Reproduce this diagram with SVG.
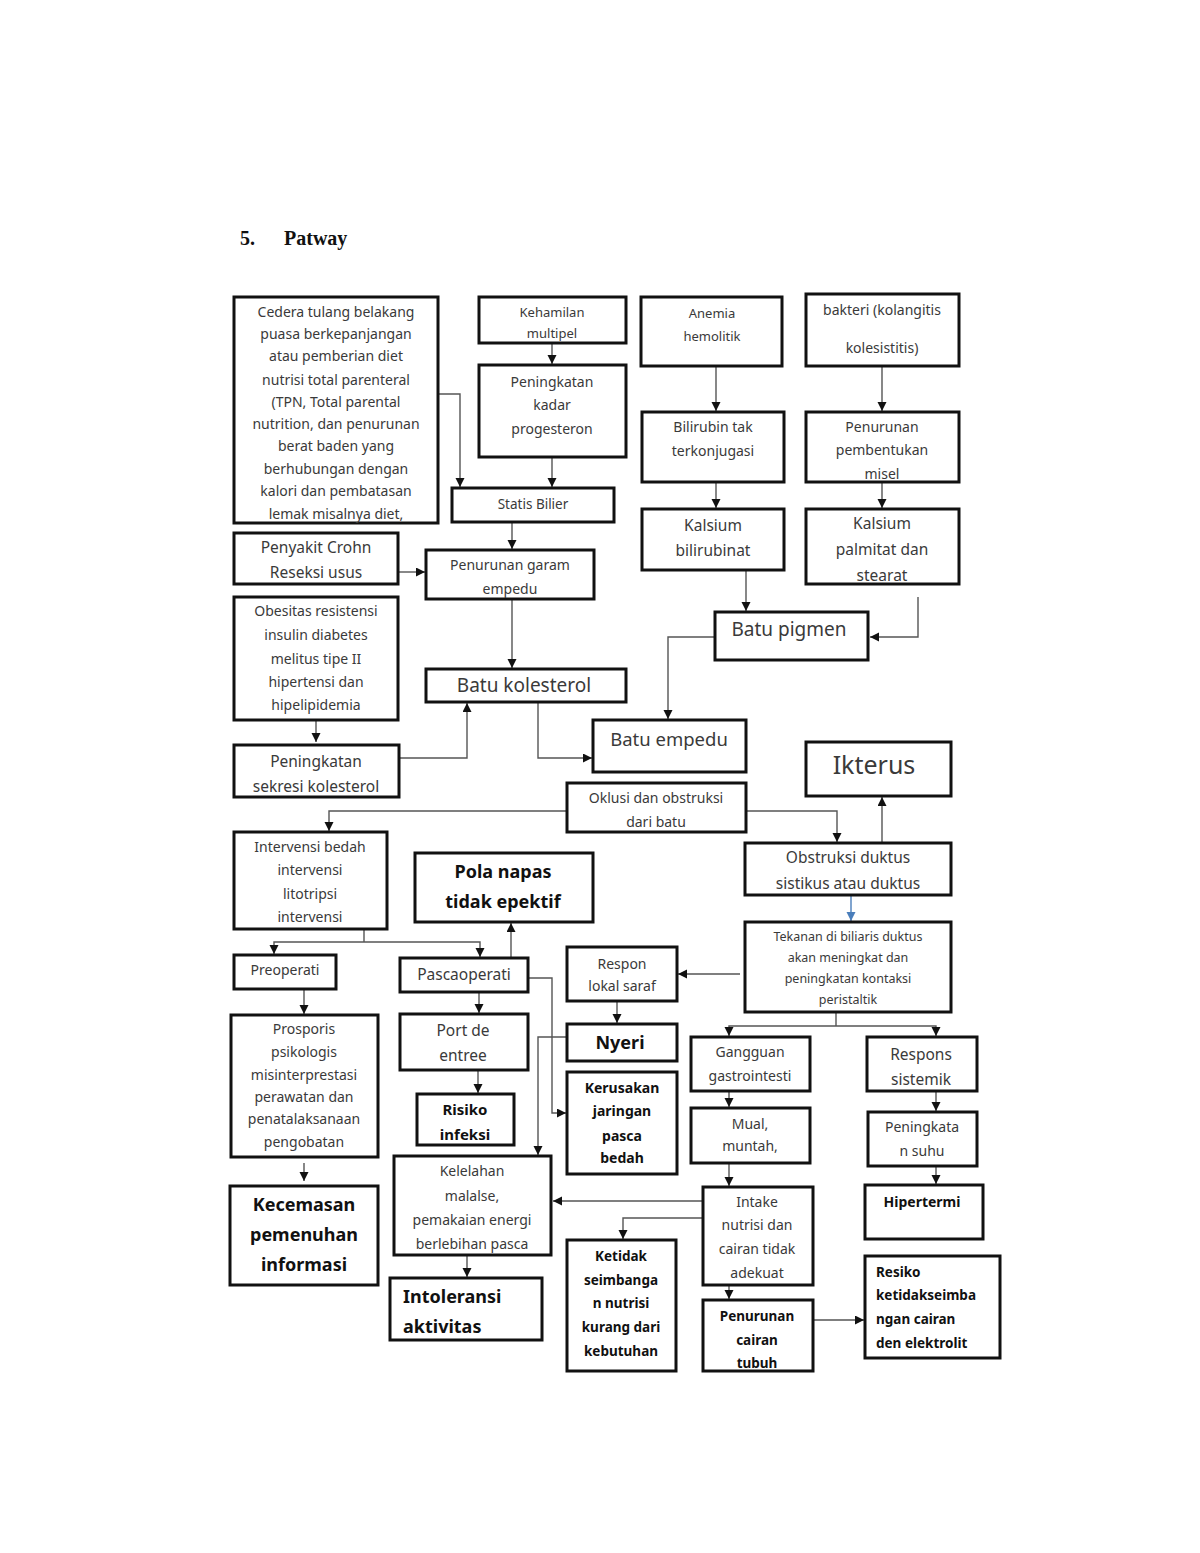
<svg xmlns="http://www.w3.org/2000/svg" width="1200" height="1553" viewBox="0 0 1200 1553">
<style>
.bx{fill:#fff;stroke:#111;stroke-width:3}
.t{font-family:"Noto Sans","Open Sans",sans-serif;fill:#3a3a3a;text-anchor:middle}
.b{font-family:"Noto Sans","Open Sans",sans-serif;fill:#111;text-anchor:middle;font-weight:bold}
.l{text-anchor:start}
.c{fill:none;stroke:#555;stroke-width:1.4}
</style>
<defs>
<marker id="a" markerUnits="userSpaceOnUse" markerWidth="10" markerHeight="10" refX="9" refY="4.5" orient="auto"><path d="M0,0 L9,4.5 L0,9 z" fill="#111"/></marker>
<marker id="ab" markerUnits="userSpaceOnUse" markerWidth="10" markerHeight="10" refX="9" refY="4.5" orient="auto"><path d="M0,0 L9,4.5 L0,9 z" fill="#4a7ebb"/></marker>
</defs>
<rect width="1200" height="1553" fill="#fff"/>
<g id="title" font-family="Liberation Serif,serif" font-size="20" font-weight="bold" fill="#111"><text x="240" y="245">5.</text><text x="284" y="245">Patway</text></g>

<g id="connectors">
<path class="c" d="M438,394 H460 V487" marker-end="url(#a)"/>
<path class="c" d="M552,343 V364" marker-end="url(#a)"/>
<path class="c" d="M552,457 V487" marker-end="url(#a)"/>
<path class="c" d="M512,522 V549" marker-end="url(#a)"/>
<path class="c" d="M398,572 H425" marker-end="url(#a)"/>
<path class="c" d="M512,599 V668" marker-end="url(#a)"/>
<path class="c" d="M316,720 V742" marker-end="url(#a)"/>
<path class="c" d="M399,758 H467 V703" marker-end="url(#a)"/>
<path class="c" d="M538,702 V758 H592" marker-end="url(#a)"/>
<path class="c" d="M716,366 V411" marker-end="url(#a)"/>
<path class="c" d="M716,482 V508" marker-end="url(#a)"/>
<path class="c" d="M882,366 V411" marker-end="url(#a)"/>
<path class="c" d="M882,482 V508" marker-end="url(#a)"/>
<path class="c" d="M746,570 V611" marker-end="url(#a)"/>
<path class="c" d="M918,597 V637 H870" marker-end="url(#a)"/>
<path class="c" d="M715,637 H668 V719" marker-end="url(#a)"/>
<path class="c" d="M567,811 H329 V831" marker-end="url(#a)"/>
<path class="c" d="M746,811 H837 V842" marker-end="url(#a)"/>
<path class="c" d="M882,843 V797" marker-end="url(#a)"/>
<path d="M851,895 V921" fill="none" stroke="#4a7ebb" stroke-width="1.4" marker-end="url(#ab)"/>
<path class="c" d="M740,974 H678" marker-end="url(#a)"/>
<path class="c" d="M617,1001 V1023" marker-end="url(#a)"/>
<path class="c" d="M364,929 V942"/>
<path class="c" d="M364,942 H274 V954" marker-end="url(#a)"/>
<path class="c" d="M364,942 H480 V957" marker-end="url(#a)"/>
<path class="c" d="M511,958 V923" marker-end="url(#a)"/>
<path class="c" d="M528,978 H552 V1113 H566" marker-end="url(#a)"/>
<path class="c" d="M304,989 V1014" marker-end="url(#a)"/>
<path class="c" d="M479,992 V1013" marker-end="url(#a)"/>
<path class="c" d="M478,1070 V1093" marker-end="url(#a)"/>
<path class="c" d="M304,1163 V1181" marker-end="url(#a)"/>
<path class="c" d="M567,1037 H538 V1155" marker-end="url(#a)"/>
<path class="c" d="M836,1012 V1026"/>
<path class="c" d="M836,1026 H729 V1036" marker-end="url(#a)"/>
<path class="c" d="M836,1026 H936 V1036" marker-end="url(#a)"/>
<path class="c" d="M729,1091 V1107" marker-end="url(#a)"/>
<path class="c" d="M729,1163 V1186" marker-end="url(#a)"/>
<path class="c" d="M936,1091 V1111" marker-end="url(#a)"/>
<path class="c" d="M936,1166 V1184" marker-end="url(#a)"/>
<path class="c" d="M703,1201 H553" marker-end="url(#a)"/>
<path class="c" d="M703,1218 H623 V1239" marker-end="url(#a)"/>
<path class="c" d="M729,1285 V1299" marker-end="url(#a)"/>
<path class="c" d="M813,1320 H864" marker-end="url(#a)"/>
<path class="c" d="M467,1255 V1277" marker-end="url(#a)"/>
</g>

<g id="nodes" font-size="14">
<g id="n1"><rect class="bx" x="234" y="297" width="204" height="226"/>
<text class="t"><tspan x="336" y="317">Cedera tulang belakang</tspan><tspan x="336" y="339">puasa berkepanjangan</tspan><tspan x="336" y="361">atau pemberian diet</tspan><tspan x="336" y="385">nutrisi total parenteral</tspan><tspan x="336" y="407">(TPN, Total parental</tspan><tspan x="336" y="429">nutrition, dan penurunan</tspan><tspan x="336" y="451">berat baden yang</tspan><tspan x="336" y="474">berhubungan dengan</tspan><tspan x="336" y="496">kalori dan pembatasan</tspan><tspan x="336" y="519">lemak misalnya diet,</tspan></text></g>
<g id="n2"><rect class="bx" x="479" y="297" width="147" height="46"/>
<text class="t" font-size="13"><tspan x="552" y="317">Kehamilan</tspan><tspan x="552" y="338">multipel</tspan></text></g>
<g id="n3"><rect class="bx" x="479" y="365" width="147" height="92"/>
<text class="t"><tspan x="552" y="387">Peningkatan</tspan><tspan x="552" y="410">kadar</tspan><tspan x="552" y="434">progesteron</tspan></text></g>
<g id="n4"><rect class="bx" x="452" y="488" width="162" height="34"/>
<text class="t" font-size="13.5"><tspan x="533" y="509">Statis Bilier</tspan></text></g>
<g id="n5"><rect class="bx" x="641" y="297" width="141" height="69"/>
<text class="t" font-size="13"><tspan x="712" y="318">Anemia</tspan><tspan x="712" y="341">hemolitik</tspan></text></g>
<g id="n6"><rect class="bx" x="806" y="294" width="153" height="72"/>
<text class="t"><tspan x="882" y="315">bakteri (kolangitis</tspan><tspan x="882" y="353">kolesistitis)</tspan></text></g>
<g id="n7"><rect class="bx" x="642" y="412" width="142" height="70"/>
<text class="t"><tspan x="713" y="432">Bilirubin tak</tspan><tspan x="713" y="456">terkonjugasi</tspan></text></g>
<g id="n8"><rect class="bx" x="806" y="412" width="153" height="70"/>
<text class="t"><tspan x="882" y="432">Penurunan</tspan><tspan x="882" y="455">pembentukan</tspan><tspan x="882" y="479">misel</tspan></text></g>
<g id="n9"><rect class="bx" x="642" y="509" width="142" height="61"/>
<text class="t" font-size="15.5"><tspan x="713" y="531">Kalsium</tspan><tspan x="713" y="556">bilirubinat</tspan></text></g>
<g id="n10"><rect class="bx" x="806" y="509" width="153" height="75"/>
<text class="t" font-size="15.5"><tspan x="882" y="529">Kalsium</tspan><tspan x="882" y="555">palmitat dan</tspan><tspan x="882" y="581">stearat</tspan></text></g>
<g id="n11"><rect class="bx" x="715" y="612" width="153" height="48"/>
<text class="t" font-size="19"><tspan x="789" y="636">Batu pigmen</tspan></text></g>
<g id="n12"><rect class="bx" x="234" y="533" width="164" height="51"/>
<text class="t" font-size="15.5"><tspan x="316" y="553">Penyakit Crohn</tspan><tspan x="316" y="578">Reseksi usus</tspan></text></g>
<g id="n13"><rect class="bx" x="426" y="550" width="168" height="49"/>
<text class="t"><tspan x="510" y="570">Penurunan garam</tspan><tspan x="510" y="594">empedu</tspan></text></g>
<g id="n14"><rect class="bx" x="234" y="597" width="164" height="123"/>
<text class="t"><tspan x="316" y="616">Obesitas resistensi</tspan><tspan x="316" y="640">insulin diabetes</tspan><tspan x="316" y="664">melitus tipe II</tspan><tspan x="316" y="687">hipertensi dan</tspan><tspan x="316" y="710">hipelipidemia</tspan></text></g>
<g id="n15"><rect class="bx" x="426" y="669" width="200" height="33"/>
<text class="t" font-size="19"><tspan x="524" y="692">Batu kolesterol</tspan></text></g>
<g id="n16"><rect class="bx" x="234" y="745" width="165" height="52"/>
<text class="t" font-size="15.5"><tspan x="316" y="767">Peningkatan</tspan><tspan x="316" y="792">sekresi kolesterol</tspan></text></g>
<g id="n17"><rect class="bx" x="593" y="720" width="153" height="52"/>
<text class="t" font-size="18.5"><tspan x="669" y="746">Batu empedu</tspan></text></g>
<g id="n18"><rect class="bx" x="806" y="742" width="145" height="54"/>
<text class="t" font-size="25" fill="#222"><tspan x="874" y="774">Ikterus</tspan></text></g>
<g id="n19"><rect class="bx" x="567" y="783" width="179" height="49"/>
<text class="t"><tspan x="656" y="803">Oklusi dan obstruksi</tspan><tspan x="656" y="827">dari batu</tspan></text></g>
<g id="n20"><rect class="bx" x="745" y="843" width="206" height="52"/>
<text class="t" font-size="15.5"><tspan x="848" y="863">Obstruksi duktus</tspan><tspan x="848" y="889">sistikus atau duktus</tspan></text></g>
<g id="n21"><rect class="bx" x="234" y="832" width="153" height="97"/>
<text class="t"><tspan x="310" y="852">Intervensi bedah</tspan><tspan x="310" y="875">intervensi</tspan><tspan x="310" y="899">litotripsi</tspan><tspan x="310" y="922">intervensi</tspan></text></g>
<g id="n22"><rect class="bx" x="415" y="853" width="178" height="69"/>
<text class="b" font-size="18"><tspan x="503" y="878">Pola napas</tspan><tspan x="503" y="908">tidak epektif</tspan></text></g>
<g id="n23"><rect class="bx" x="745" y="922" width="206" height="90"/>
<text class="t" font-size="12.5"><tspan x="848" y="941">Tekanan di biliaris duktus</tspan><tspan x="848" y="962">akan meningkat dan</tspan><tspan x="848" y="983">peningkatan kontaksi</tspan><tspan x="848" y="1004">peristaltik</tspan></text></g>
<g id="n24"><rect class="bx" x="567" y="947" width="110" height="54"/>
<text class="t"><tspan x="622" y="969">Respon</tspan><tspan x="622" y="991">lokal saraf</tspan></text></g>
<g id="n25"><rect class="bx" x="234" y="955" width="102" height="34"/>
<text class="t"><tspan x="285" y="975">Preoperati</tspan></text></g>
<g id="n26"><rect class="bx" x="400" y="958" width="128" height="34"/>
<text class="t" font-size="15.5"><tspan x="464" y="980">Pascaoperati</tspan></text></g>
<g id="n27"><rect class="bx" x="231" y="1015" width="147" height="142"/>
<text class="t"><tspan x="304" y="1034">Prosporis</tspan><tspan x="304" y="1057">psikologis</tspan><tspan x="304" y="1080">misinterprestasi</tspan><tspan x="304" y="1102">perawatan dan</tspan><tspan x="304" y="1124">penatalaksanaan</tspan><tspan x="304" y="1147">pengobatan</tspan></text></g>
<g id="n28"><rect class="bx" x="400" y="1014" width="128" height="56"/>
<text class="t" font-size="15.5"><tspan x="463" y="1036">Port de</tspan><tspan x="463" y="1061">entree</tspan></text></g>
<g id="n29"><rect class="bx" x="567" y="1024" width="110" height="37"/>
<text class="b" font-size="18"><tspan x="620" y="1049">Nyeri</tspan></text></g>
<g id="n30"><rect class="bx" x="691" y="1037" width="119" height="54"/>
<text class="t"><tspan x="750" y="1057">Gangguan</tspan><tspan x="750" y="1081">gastrointesti</tspan></text></g>
<g id="n31"><rect class="bx" x="867" y="1037" width="110" height="54"/>
<text class="t" font-size="15.5"><tspan x="921" y="1060">Respons</tspan><tspan x="921" y="1085">sistemik</tspan></text></g>
<g id="n32"><rect class="bx" x="417" y="1094" width="97" height="51"/>
<text class="b" font-size="15"><tspan x="465" y="1115">Risiko</tspan><tspan x="465" y="1140">infeksi</tspan></text></g>
<g id="n33"><rect class="bx" x="567" y="1072" width="110" height="102"/>
<text class="b" font-size="14"><tspan x="622" y="1093">Kerusakan</tspan><tspan x="622" y="1116">jaringan</tspan><tspan x="622" y="1141">pasca</tspan><tspan x="622" y="1163">bedah</tspan></text></g>
<g id="n34"><rect class="bx" x="691" y="1108" width="119" height="55"/>
<text class="t"><tspan x="750" y="1129">Mual,</tspan><tspan x="750" y="1151">muntah,</tspan></text></g>
<g id="n35"><rect class="bx" x="868" y="1112" width="109" height="54"/>
<text class="t"><tspan x="922" y="1132">Peningkata</tspan><tspan x="922" y="1156">n suhu</tspan></text></g>
<g id="n36"><rect class="bx" x="394" y="1156" width="157" height="99"/>
<text class="t"><tspan x="472" y="1176">Kelelahan</tspan><tspan x="472" y="1201">malalse,</tspan><tspan x="472" y="1225">pemakaian energi</tspan><tspan x="472" y="1249">berlebihan pasca</tspan></text></g>
<g id="n37"><rect class="bx" x="230" y="1186" width="148" height="99"/>
<text class="b" font-size="18"><tspan x="304" y="1211">Kecemasan</tspan><tspan x="304" y="1241">pemenuhan</tspan><tspan x="304" y="1271">informasi</tspan></text></g>
<g id="n38"><rect class="bx" x="703" y="1187" width="110" height="98"/>
<text class="t"><tspan x="757" y="1207">Intake</tspan><tspan x="757" y="1230">nutrisi dan</tspan><tspan x="757" y="1254">cairan tidak</tspan><tspan x="757" y="1278">adekuat</tspan></text></g>
<g id="n39"><rect class="bx" x="865" y="1185" width="118" height="54"/>
<text class="b" font-size="14"><tspan x="922" y="1207">Hipertermi</tspan></text></g>
<g id="n40"><rect class="bx" x="567" y="1240" width="109" height="131"/>
<text class="b" font-size="13.5"><tspan x="621" y="1261">Ketidak</tspan><tspan x="621" y="1285">seimbanga</tspan><tspan x="621" y="1308">n nutrisi</tspan><tspan x="621" y="1332">kurang dari</tspan><tspan x="621" y="1356">kebutuhan</tspan></text></g>
<g id="n41"><rect class="bx" x="390" y="1278" width="152" height="62"/>
<text class="b l" font-size="18"><tspan x="403" y="1303">Intoleransi</tspan><tspan x="403" y="1333">aktivitas</tspan></text></g>
<g id="n42"><rect class="bx" x="703" y="1300" width="110" height="71"/>
<text class="b" font-size="13.5"><tspan x="757" y="1321">Penurunan</tspan><tspan x="757" y="1345">cairan</tspan><tspan x="757" y="1368">tubuh</tspan></text></g>
<g id="n43"><rect class="bx" x="865" y="1256" width="135" height="102"/>
<text class="b l" font-size="13.5"><tspan x="876" y="1277">Resiko</tspan><tspan x="876" y="1300">ketidakseimba</tspan><tspan x="876" y="1324">ngan cairan</tspan><tspan x="876" y="1348">den elektrolit</tspan></text></g>
</g>
</svg>
